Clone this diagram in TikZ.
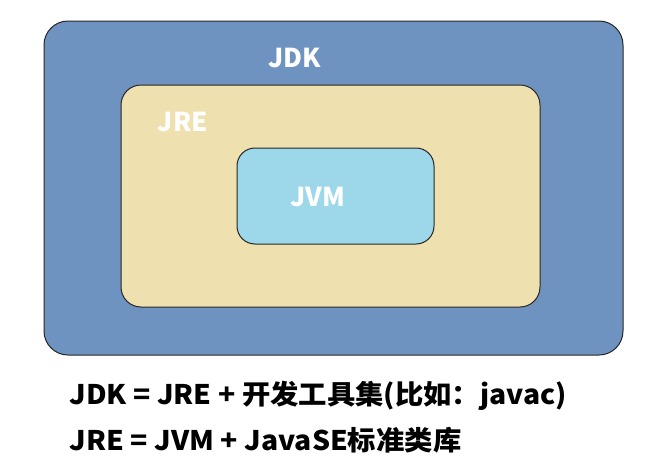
\documentclass[tikz,border=0pt]{standalone}
\usepackage{fontspec}
\setmainfont{Noto Sans CJK SC}
\definecolor{jdk}{HTML}{6F93C0}
\definecolor{jre}{HTML}{EFE0B0}
\definecolor{jvm}{HTML}{9DD8EA}
\begin{document}
\begin{tikzpicture}[x=1pt,y=-1pt,
  box/.style={draw=black!85, line width=1pt},
  lab/.style={text=white, font=\bfseries\fontsize{26}{30}\selectfont},
  eq/.style={anchor=west, font=\bfseries\fontsize{27}{31}\selectfont}]
\useasboundingbox (0,0) rectangle (665,474);
\draw[box, fill=jdk, rounded corners=24pt] (44,21) rectangle (623,355);
\draw[box, fill=jre, rounded corners=20pt] (121,85) rectangle (540,307);
\draw[box, fill=jvm, rounded corners=18pt] (237,148) rectangle (434,244);
\node[lab] (jdk) at (295,58) {JDK};
\node[lab] (jre) at (183,122) {JRE};
\node[lab] (jvm) at (318,197) {JVM};
\node[eq, xscale=1.05] (l1) at (66,396) {JDK = JRE + 开发工具集(比如：javac)};
\node[eq, xscale=1.05] (l2) at (66,440) {JRE = JVM + JavaSE标准类库};
\end{tikzpicture}
\end{document}
